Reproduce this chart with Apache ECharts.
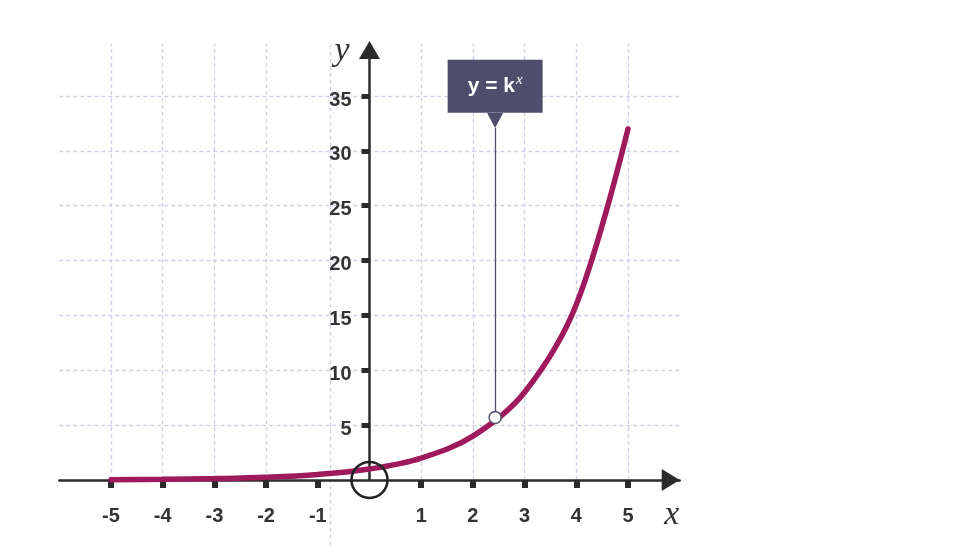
<!DOCTYPE html>
<html>
<head>
<meta charset="utf-8">
<script src="https://cdn.jsdelivr.net/npm/echarts@6/dist/echarts.min.js"></script>
<style>
html,body{margin:0;padding:0;background:#fff;}
#chart{width:976px;height:549px;}
</style>
</head>
<body>
<div id="chart"></div>
<script>
// ---- data ----
const xValues = [-5, -4, -3, -2, -1, 0, 1, 2, 3, 4, 5];
const yValues = [0.03, 0.06, 0.13, 0.25, 0.5, 1, 2, 4, 8, 16, 32];
const xTickValues = [-5, -4, -3, -2, -1, 1, 2, 3, 4, 5];
const yTickValues = [5, 10, 15, 20, 25, 30, 35];
const gridXValues = [-5, -4, -3, -2, 1, 2, 3, 4, 5];
const strayGridX = [-0.75];
const gridYValues = [5, 10, 15, 20, 25, 30, 35];
const markedPoint = [2.43, 5.7];
const calloutMain = 'y = k';
const calloutExp = 'x';

const X_MIN = -6, X_MAX = 6, Y_MIN = -6, Y_MAX = 40;
const GRID_LEFT = 59.3, GRID_RIGHT = 296.3, GRID_TOP = 41.2, GRID_BOTTOM = 3.2;
const W = 976, H = 549;
// shift axes so that they cross at the origin
const plotW = W - GRID_LEFT - GRID_RIGHT, plotH = H - GRID_TOP - GRID_BOTTOM;
const yAxisShift = -plotW * (0 - X_MIN) / (X_MAX - X_MIN);
const xAxisShift = -plotH * (0 - Y_MIN) / (Y_MAX - Y_MIN);

const AXIS_COLOR = '#2b2b2b';
const GRID_COLOR = '#cfcfe8';
const CURVE_COLOR = '#9e1a5c';
const CALLOUT_COLOR = '#4e4e6c';

const chart = echarts.init(document.getElementById('chart'), null, {renderer: 'canvas'});

const gridLineData = []
  .concat(gridXValues.map(v => [{coord: [v, 0]}, {coord: [v, 39.8]}]))
  .concat(strayGridX.map(v => [{coord: [v, Y_MIN]}, {coord: [v, 39.8]}]))
  .concat(gridYValues.map(v => [{coord: [X_MIN, v]}, {coord: [X_MAX, v]}]));

const labelFont = {color: '#333', fontSize: 20, fontWeight: 'bold', fontFamily: 'Liberation Sans, Arial, sans-serif'};

const option = {
  animation: false,
  backgroundColor: '#fff',
  grid: {left: GRID_LEFT, right: GRID_RIGHT, top: GRID_TOP, bottom: GRID_BOTTOM, containLabel: false, outerBoundsMode: 'none'},
  xAxis: {
    type: 'value', min: X_MIN, max: X_MAX, interval: 1, z: 1.5, offset: xAxisShift,
    axisLine: {show: true, onZero: false, lineStyle: {color: AXIS_COLOR, width: 2.5},
      symbol: ['none', 'triangle'], symbolSize: [22, 18], symbolOffset: [0, -9]},
    axisTick: {show: true, customValues: xTickValues, length: 8, lineStyle: {color: AXIS_COLOR, width: 6}},
    axisLabel: Object.assign({customValues: xTickValues, margin: 27}, labelFont),
    splitLine: {show: false},
    name: 'x', nameLocation: 'end', nameGap: -8,
    nameTextStyle: {fontFamily: 'Liberation Serif, serif', fontStyle: 'italic', fontSize: 34, color: '#333',
      align: 'center', verticalAlign: 'top', lineHeight: 70}
  },
  yAxis: {
    type: 'value', min: Y_MIN, max: Y_MAX, z: 1.5, offset: yAxisShift,
    axisLine: {show: true, onZero: false, lineStyle: {color: 'rgba(0,0,0,0)', width: 0}},
    axisTick: {show: true, customValues: yTickValues, length: 8, lineStyle: {color: AXIS_COLOR, width: 5}},
    axisLabel: Object.assign({customValues: yTickValues, margin: 18, verticalAlign: 'top', lineHeight: 8}, labelFont),
    splitLine: {show: false},
    name: 'y', nameLocation: 'end', nameGap: -10,
    nameTextStyle: {fontFamily: 'Liberation Serif, serif', fontStyle: 'italic', fontSize: 34, color: '#333',
      align: 'right', verticalAlign: 'middle', padding: [0, 20, 0, 0]}
  },
  series: [
    { // grid lines
      type: 'line', data: [], z: 1, silent: true,
      markLine: {silent: true, z: 1, symbol: ['none', 'none'], animation: false,
        label: {show: false},
        lineStyle: {color: GRID_COLOR, width: 1.3, type: [4, 3]},
        emphasis: {disabled: true},
        data: gridLineData}
    },
    { // y axis line with arrow
      type: 'line', data: [], z: 1.6, silent: true,
      markLine: {silent: true, z: 1.6, symbol: ['none', 'triangle'], symbolSize: [21, 18], animation: false,
        label: {show: false},
        lineStyle: {color: AXIS_COLOR, width: 2.5, type: 'solid'},
        itemStyle: {color: AXIS_COLOR},
        emphasis: {disabled: true},
        data: [[{coord: [0, 0]}, {coord: [0, 39.2]}]]}
    },
    { // curve
      type: 'line', z: 2, silent: true,
      data: xValues.map((x, i) => [x, yValues[i]]),
      smooth: 0.35, showSymbol: false,
      lineStyle: {color: CURVE_COLOR, width: 5.5, cap: 'round'},
      emphasis: {disabled: true}
    },
    { // annotation stem
      type: 'line', data: [], z: 3, silent: true,
      markLine: {silent: true, z: 3, symbol: ['none', 'none'], animation: false,
        label: {show: false},
        lineStyle: {color: CALLOUT_COLOR, width: 1.3, type: 'solid'},
        emphasis: {disabled: true},
        data: [[{coord: [markedPoint[0], markedPoint[1]]}, {coord: [markedPoint[0], 32.1]}]]}
    },
    { // origin circle
      type: 'scatter', z: 4, silent: true,
      data: [[0, 0]], symbol: 'circle', symbolSize: 36,
      itemStyle: {color: 'rgba(0,0,0,0)', borderColor: '#222', borderWidth: 2.5, opacity: 1},
      emphasis: {disabled: true}
    },
    { // marked point
      type: 'scatter', z: 5, silent: true,
      data: [markedPoint], symbol: 'circle', symbolSize: 12,
      itemStyle: {color: '#fff', borderColor: CALLOUT_COLOR, borderWidth: 1.5, opacity: 1},
      emphasis: {disabled: true}
    },
    { // callout pointer
      type: 'scatter', z: 6, silent: true,
      data: [[markedPoint[0], 32.77]], symbol: 'triangle', symbolRotate: 180, symbolSize: [16, 15],
      itemStyle: {color: CALLOUT_COLOR, opacity: 1},
      emphasis: {disabled: true}
    },
    { // callout box
      type: 'scatter', z: 6, silent: true,
      data: [[markedPoint[0], 35.9]], symbol: 'rect', symbolSize: [95, 53],
      itemStyle: {color: CALLOUT_COLOR, opacity: 1},
      label: {show: true, position: 'inside',
        formatter: '{a|' + calloutMain + '}{b|' + calloutExp + '}',
        rich: {
          a: {color: '#fff', fontSize: 21, fontWeight: 'bold', fontFamily: 'Liberation Sans, Arial, sans-serif'},
          b: {color: '#fff', fontSize: 15, fontStyle: 'italic', fontFamily: 'Liberation Serif, serif', padding: [0, 0, 13, 1]}
        }},
      emphasis: {disabled: true}
    }
  ]
};
chart.setOption(option);
</script>
</body>
</html>
